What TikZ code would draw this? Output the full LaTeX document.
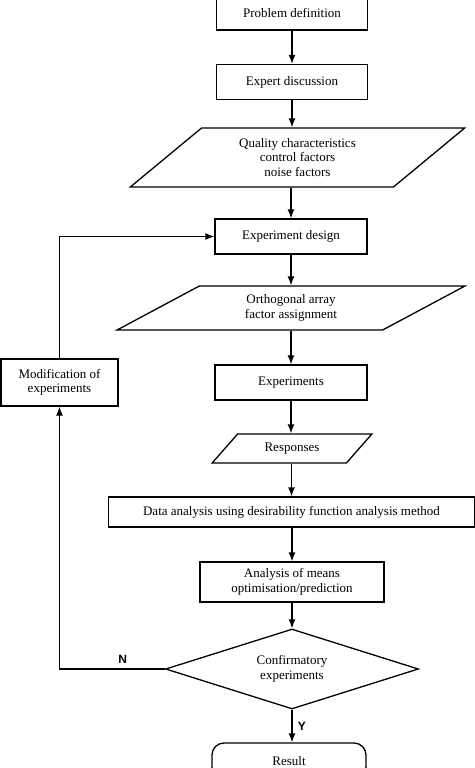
\documentclass[tikz,border=0pt]{standalone}
\usepackage{fontspec}
\setmainfont{Liberation Serif}
\setsansfont{Liberation Sans}
\usetikzlibrary{shapes.geometric,arrows.meta,positioning}

\tikzset{
    txt/.style={font=\fontsize{13}{14.5}\selectfont, align=center},
    procbox/.style={txt, draw, line width=1.3pt, rectangle, inner sep=0pt},
    iobox/.style={txt, draw, line width=1.3pt, trapezium, trapezium stretches=true, inner sep=0pt},
    decbox/.style={txt, draw, line width=1.3pt, diamond, inner sep=0pt},
    endbox/.style={txt, draw, line width=1.3pt, rectangle, rounded corners=12pt, inner sep=0pt},
    arr/.style={-{Latex[length=9pt,width=7pt]}, line width=1.3pt},
    yn/.style={font=\sffamily\bfseries\fontsize{12}{14}\selectfont}
}

\begin{document}
\begin{tikzpicture}[x=1pt,y=-1pt]
    \useasboundingbox (0,0) rectangle (474,768);

    % Main chain
    \node[procbox, minimum width=151pt, minimum height=35pt] (prob) at (292,12.5) {Problem definition};
    \node[procbox, minimum width=151pt, minimum height=35pt] (expert) at (292,82) {Expert discussion};
    \node[iobox, minimum width=335pt, minimum height=59pt,
          trapezium left angle=41.4, trapezium right angle=138.6] (quality) at (297.5,157.5)
          {Quality characteristics\\control factors\\noise factors};
    \node[procbox, minimum width=152pt, minimum height=35pt] (design) at (291,236.5) {Experiment design};
    \node[iobox, minimum width=348pt, minimum height=44pt,
          trapezium left angle=32.5, trapezium right angle=147.5] (ortho) at (291,308)
          {Orthogonal array\\factor assignment};
    \node[procbox, minimum width=152pt, minimum height=35pt] (exper) at (291,382.5) {Experiments};
    \node[iobox, minimum width=160pt, minimum height=29pt,
          trapezium left angle=41.3, trapezium right angle=138.7] (resp) at (292,448.5) {Responses};
    \node[procbox, minimum width=366pt, minimum height=30pt] (data) at (291.5,512)
          {Data analysis using desirability function analysis method};
    \node[procbox, minimum width=184pt, minimum height=40pt] (means) at (292,582)
          {Analysis of means\\optimisation/prediction};
    \node[decbox, minimum width=253pt, minimum height=80pt, aspect=3.2] (confirm) at (292,669)
          {Confirmatory\\experiments};
    \node[endbox, minimum width=154pt, minimum height=36pt] (result) at (289,761) {Result};

    % Feedback
    \node[procbox, minimum width=117pt, minimum height=47pt] (modif) at (59.5,382.5)
          {Modification of\\experiments};

    % Arrows
    \draw[arr] (prob) -- (expert);
    \draw[arr] (expert.south) -- (expert.south |- quality.north);
    \draw[arr] (quality.south -| design.north) -- (design.north);
    \draw[arr] (design.south) -- (design.south |- ortho.north);
    \draw[arr] (ortho.south -| exper.north) -- (exper.north);
    \draw[arr] (exper.south) -- (exper.south |- resp.north);
    \draw[arr] (resp.south -| data.north) -- (data.north);
    \draw[arr] (data.south -| means.north) -- (means.north);
    \draw[arr] (means.south -| confirm.north) -- (confirm.north);
    \draw[arr] (confirm.south) -- (confirm.south |- result.north)
        node[yn, midway, right=2pt] {Y};
    \draw[arr] (confirm.west) -- (confirm.west -| modif.south)
        node[yn, pos=0.4, above=2pt] {N} -- (modif.south);
    \draw[arr] (modif.north) |- (design.west);
\end{tikzpicture}
\end{document}
